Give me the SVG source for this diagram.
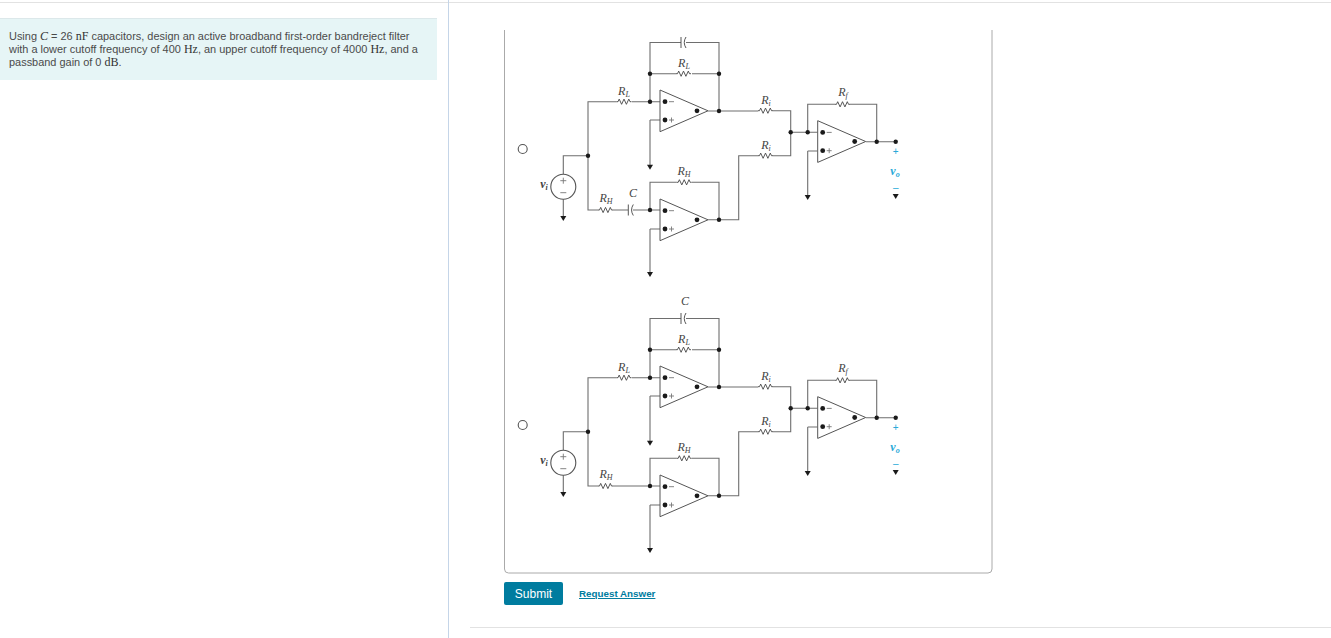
<svg xmlns="http://www.w3.org/2000/svg" width="1331" height="638" viewBox="0 0 1331 638">
<style>
.w{fill:none;stroke:#6e6e6e;stroke-width:1.1}
.k{fill:none;stroke:#444;stroke-width:.9}
.t{fill:none;stroke:#777;stroke-width:.9}
.d{fill:#1a1a1a}
.p{font-family:"Liberation Sans",Arial,sans-serif;font-size:10.950px;fill:#4a4a4a}
.m{font-family:"Liberation Serif",serif;font-size:12px;fill:#333}
.i{font-style:italic}
.l{font-family:"Liberation Serif",serif;font-style:italic;font-size:12px;fill:#444;text-anchor:middle}
.s{font-size:8px}
.v{font-weight:700}
.c{font-family:"Liberation Sans",Arial,sans-serif;font-size:10px;fill:#29a9d8;text-anchor:middle}
.vo{font-family:"Liberation Serif",serif;font-style:italic;font-weight:700;font-size:12px;fill:#29a9d8;text-anchor:middle}
</style>
<defs>
<path id="r" class="k" d="M0 0h1.500l1.200-2.600 2.400 5.200 2.400-5.200 2.400 5.200 2.400-5.200 1.200 2.600h1.500"/>
<path id="a" fill="#1a1a1a" d="M-3-2h6l-3 5z"/>
<g id="op"><path d="M0 0V41.700L48 20.800Z" fill="#fff" stroke="#555" stroke-width="1"/><circle class="d" cx="5" cy="11.700" r="2.400"/><circle class="d" cx="5" cy="30" r="2.400"/><circle class="d" cx="37" cy="20.800" r="2.400"/><path class="t" d="M9 11.700h5M9 30h5M11.500 27.500v5"/></g>
<g id="cap"><path class="k" d="M0-5.500V5.500"/><path class="k" d="M5-5.500Q1.500 0 5 5.500"/></g>
<g id="src"><circle r="12.500" fill="#fff" stroke="#555" stroke-width="1.100"/><path class="t" d="M-3-6h6M0-9v6M-3 6h6"/></g>
<circle id="j" class="d" r="2.200"/>
</defs>

<rect width="1331" height="638" fill="#fff"/>
<path d="M0 2.500H1331" stroke="#e2e2e2" fill="none"/>
<path d="M448.500 0V638" stroke="#c5d5e8" fill="none"/>
<path d="M470 627.500H1331" stroke="#e2e2e2" fill="none"/>

<g id="prompt">
<rect x="0" y="18" width="437" height="62" fill="#e6f5f6"/>
<path d="M0 18.500H437" stroke="#dce8ea" fill="none"/>
<text class="p" x="9" y="39.500">Using <tspan class="m i">C</tspan> = 26 <tspan class="m">nF</tspan> capacitors, design an active broadband first-order bandreject filter</text>
<text class="p" x="9" y="52.500">with a lower cutoff frequency of 400 <tspan class="m">Hz</tspan>, an upper cutoff frequency of 4000 <tspan class="m">Hz</tspan>, and a</text>
<text class="p" x="9" y="65.500">passband gain of 0 <tspan class="m">dB</tspan>.</text>
</g>

<g id="answer-box">
<path d="M504.500 30V569a4 4 0 0 0 4 4H988a4 4 0 0 0 4-4V30" fill="none" stroke="#aaa"/>
</g>
<g id="radio1"><circle cx="522.700" cy="149" r="4.500" fill="#fff" stroke="#555" stroke-width="1.100"/></g>
<g id="radio2"><circle cx="522.700" cy="425" r="4.500" fill="#fff" stroke="#555" stroke-width="1.100"/></g>

<g id="connectors">
<path class="w" d="M681 42.500H650V101.700M686 42.500H719V111M650 73.700H676M692 73.700H719M588 155.700V101.700H616.500M632 101.700H660M650 120H660M650 120V165M708 111H758M773 110.700H790.700V155.700H773M758 155.700H738.700V219.700H708M790.700 132.300H817.700M807.700 132.300V104.300H835M850 104.300H876.700V141.700M807.700 151H817.700M807.700 151V195M866 141.700H895.700M563.300 174V155.700H588M563.300 199V216M588 155.700V210H598M613 210H628M633 210H660M650 210V182.300H676.700M692 182.300H719V219.700M650 229H660M650 229V272"/>
<path class="w" d="M681 318.500H650V377.700M686 318.500H719V387M650 349.700H676M692 349.700H719M588 431.700V377.700H616.500M632 377.700H660M650 396H660M650 396V441M708 387H758M773 386.700H790.700V431.700H773M758 431.700H738.700V495.700H708M790.700 408.300H817.700M807.700 408.300V380.300H835M850 380.300H876.700V417.700M807.700 427H817.700M807.700 427V471M866 417.700H895.700M563.300 450V431.700H588M563.300 475V492M588 431.700V486H598M613 486H660M650 486V458.300H676.700M692 458.300H719V495.700M650 505H660M650 505V548"/>
<use href="#r" x="676" y="73.700"/><use href="#r" x="616.500" y="101.700"/><use href="#r" x="758" y="110.700"/><use href="#r" x="758" y="155.700"/><use href="#r" x="835" y="104.300"/><use href="#r" x="676.700" y="182.300"/><use href="#r" x="598" y="210"/>
<use href="#r" x="676" y="349.700"/><use href="#r" x="616.500" y="377.700"/><use href="#r" x="758" y="386.700"/><use href="#r" x="758" y="431.700"/><use href="#r" x="835" y="380.300"/><use href="#r" x="676.700" y="458.300"/><use href="#r" x="598" y="486"/>
<use href="#cap" x="681" y="42.500"/><use href="#cap" x="628.300" y="210"/><use href="#cap" x="681" y="318.500"/>
<use href="#a" x="650" y="166.700"/><use href="#a" x="807.700" y="197"/><use href="#a" x="895.700" y="196"/><use href="#a" x="563.300" y="218"/><use href="#a" x="650" y="274"/>
<use href="#a" x="650" y="442.700"/><use href="#a" x="807.700" y="473"/><use href="#a" x="895.700" y="472"/><use href="#a" x="563.300" y="494"/><use href="#a" x="650" y="550"/>
<use href="#j" x="650" y="73.700"/><use href="#j" x="719" y="73.700"/><use href="#j" x="650" y="101.700"/><use href="#j" x="719" y="111"/><use href="#j" x="790.700" y="132.300"/><use href="#j" x="807.700" y="132.300"/><use href="#j" x="876.700" y="141.700"/><use href="#j" x="895.700" y="141.700"/><use href="#j" x="588" y="155.700"/><use href="#j" x="650" y="210"/><use href="#j" x="719" y="219.700"/>
<use href="#j" x="650" y="349.700"/><use href="#j" x="719" y="349.700"/><use href="#j" x="650" y="377.700"/><use href="#j" x="719" y="387"/><use href="#j" x="790.700" y="408.300"/><use href="#j" x="807.700" y="408.300"/><use href="#j" x="876.700" y="417.700"/><use href="#j" x="895.700" y="417.700"/><use href="#j" x="588" y="431.700"/><use href="#j" x="650" y="486"/><use href="#j" x="719" y="495.700"/>
</g>

<g id="opamp-a1"><use href="#op" x="660" y="90"/></g>
<g id="opamp-b1"><use href="#op" x="660" y="199"/></g>
<g id="opamp-c1"><use href="#op" x="817.700" y="120.700"/></g>
<g id="opamp-a2"><use href="#op" x="660" y="366"/></g>
<g id="opamp-b2"><use href="#op" x="660" y="475"/></g>
<g id="opamp-c2"><use href="#op" x="817.700" y="396.700"/></g>
<g id="source1"><use href="#src" x="563.300" y="186.700"/></g>
<g id="source2"><use href="#src" x="563.300" y="462.700"/></g>

<g id="labels">
<text class="l" x="684" y="67">R<tspan class="s" dy="2">L</tspan></text>
<text class="l" x="624" y="95">R<tspan class="s" dy="2">L</tspan></text>
<text class="l" x="766" y="104">R<tspan class="s" dy="2">i</tspan></text>
<text class="l" x="766" y="149">R<tspan class="s" dy="2">i</tspan></text>
<text class="l" x="843" y="96">R<tspan class="s" dy="2">f</tspan></text>
<text class="l" x="684" y="175">R<tspan class="s" dy="2">H</tspan></text>
<text class="l" x="606" y="202">R<tspan class="s" dy="2">H</tspan></text>
<text class="l" x="633" y="197">C</text>
<text class="l v" x="544" y="188">v<tspan class="s" dy="2">i</tspan></text>
<text class="c" x="895.700" y="154.500">+</text>
<text class="vo" x="895" y="175">v<tspan class="s" dy="2">o</tspan></text>
<text class="c" x="895.700" y="191">–</text>
<text class="l" x="685" y="305">C</text>
<text class="l" x="684" y="343">R<tspan class="s" dy="2">L</tspan></text>
<text class="l" x="624" y="371">R<tspan class="s" dy="2">L</tspan></text>
<text class="l" x="766" y="380">R<tspan class="s" dy="2">i</tspan></text>
<text class="l" x="766" y="425">R<tspan class="s" dy="2">i</tspan></text>
<text class="l" x="843" y="372">R<tspan class="s" dy="2">f</tspan></text>
<text class="l" x="684" y="451">R<tspan class="s" dy="2">H</tspan></text>
<text class="l" x="606" y="478">R<tspan class="s" dy="2">H</tspan></text>
<text class="l v" x="544" y="464">v<tspan class="s" dy="2">i</tspan></text>
<text class="c" x="895.700" y="430.500">+</text>
<text class="vo" x="895" y="451">v<tspan class="s" dy="2">o</tspan></text>
<text class="c" x="895.700" y="467">–</text>
</g>

<g id="submit"><rect x="504" y="582" width="59" height="23" rx="2" fill="#007c9f"/><text x="533.500" y="598" text-anchor="middle" font-family="'Liberation Sans',Arial,sans-serif" font-size="12" fill="#fff">Submit</text></g>
<g id="request"><text x="579" y="597" font-family="'Liberation Sans',Arial,sans-serif" font-size="9.800" font-weight="700" fill="#007c9f" text-decoration="underline">Request Answer</text></g>
</svg>
